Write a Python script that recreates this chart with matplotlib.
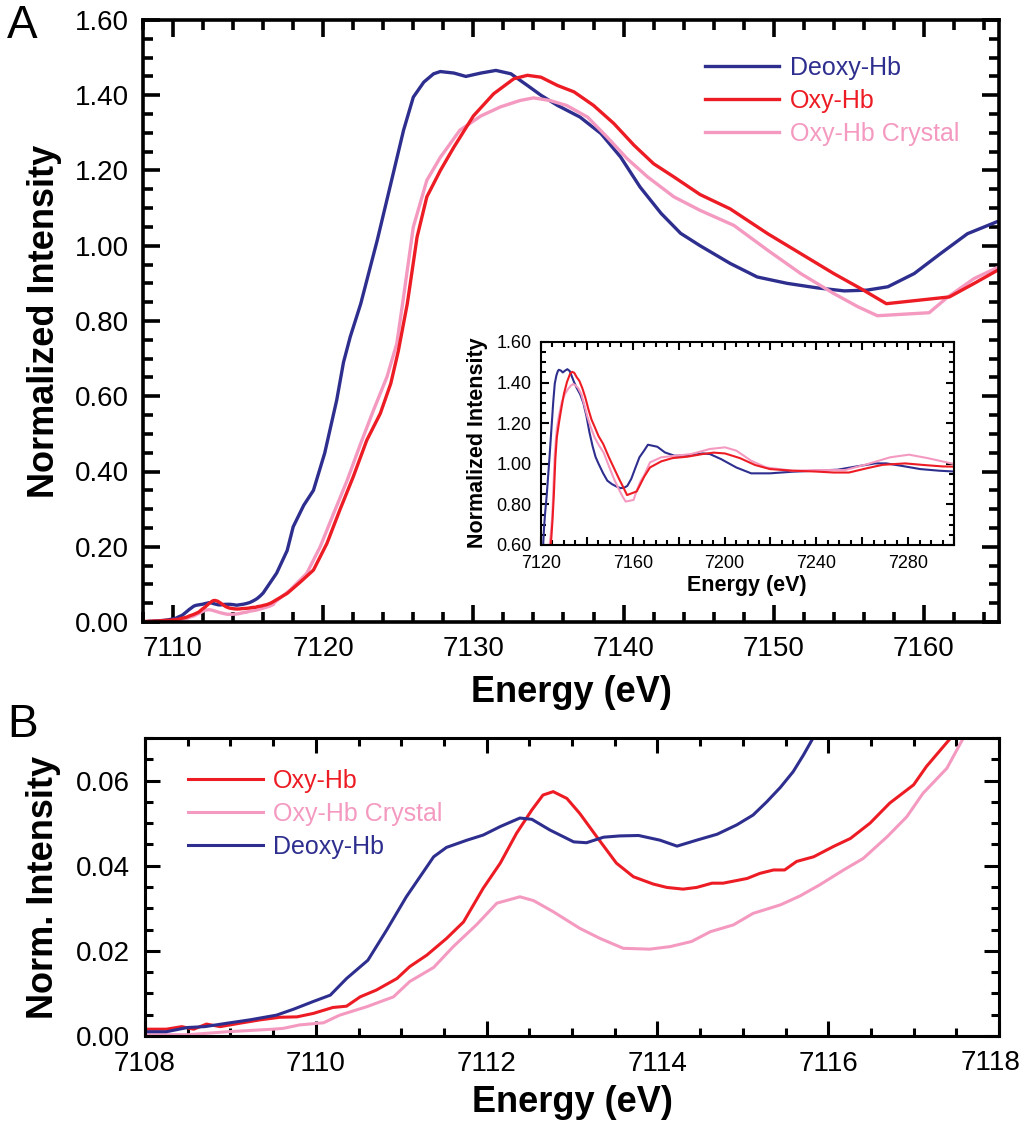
import numpy as np
import matplotlib
matplotlib.use('Agg')
import matplotlib.pyplot as plt
from matplotlib.ticker import MultipleLocator, FormatStrFormatter, FuncFormatter

plt.rcParams['font.family'] = ['Liberation Sans', 'DejaVu Sans']

NAVY = '#2e2e8f'
RED = '#ed1c24'
PINK = '#f49ac1'

# --- pre-edge region (panel B) ---
pre_e_deoxy = [7108.0, 7108.25, 7108.5, 7108.7, 7108.96, 7109.23, 7109.54, 7109.74, 7109.97, 7110.17,
               7110.36, 7110.61, 7110.83, 7111.06, 7111.22, 7111.38, 7111.53, 7111.77, 7111.96, 7112.16,
               7112.39, 7112.53, 7112.74, 7113.02, 7113.17, 7113.37, 7113.56, 7113.78, 7114.03, 7114.23,
               7114.46, 7114.7, 7114.93, 7115.12, 7115.28, 7115.44, 7115.59, 7115.71, 7115.82, 7116.0]
pre_i_deoxy = [0.0010, 0.0010, 0.0020, 0.0022, 0.0030, 0.0038, 0.0049, 0.0063, 0.0081, 0.0096,
               0.0135, 0.0178, 0.0249, 0.0327, 0.0374, 0.0421, 0.0443, 0.0460, 0.0472, 0.0492,
               0.0512, 0.0509, 0.0484, 0.0456, 0.0454, 0.0467, 0.0470, 0.0471, 0.0460, 0.0446,
               0.0460, 0.0474, 0.0496, 0.0519, 0.0550, 0.0584, 0.0621, 0.0660, 0.0699, 0.0760]

pre_e_oxy = [7108.0, 7108.25, 7108.43, 7108.57, 7108.72, 7108.88, 7109.11, 7109.35, 7109.58, 7109.78,
             7109.97, 7110.2, 7110.36, 7110.52, 7110.71, 7110.95, 7111.1, 7111.3, 7111.53, 7111.73,
             7111.96, 7112.16, 7112.35, 7112.53, 7112.66, 7112.78, 7112.94, 7113.09, 7113.29, 7113.52,
             7113.72, 7113.95, 7114.11, 7114.3, 7114.46, 7114.64, 7114.77, 7115.05, 7115.2, 7115.36,
             7115.49, 7115.63, 7115.83, 7116.06, 7116.26, 7116.49, 7116.72, 7117.0, 7117.15, 7117.43, 7117.6]
pre_i_oxy = [0.0016, 0.0016, 0.0022, 0.0016, 0.0028, 0.0022, 0.0030, 0.0038, 0.0044, 0.0045,
             0.0053, 0.0067, 0.0070, 0.0092, 0.0108, 0.0135, 0.0163, 0.0190, 0.0229, 0.0268,
             0.0347, 0.0406, 0.0476, 0.0531, 0.0566, 0.0574, 0.0558, 0.0523, 0.0468, 0.0406,
             0.0374, 0.0357, 0.0349, 0.0345, 0.0349, 0.0359, 0.0359, 0.0370, 0.0382, 0.0390,
             0.0390, 0.0410, 0.0421, 0.0445, 0.0464, 0.0500, 0.0547, 0.0590, 0.0633, 0.0699, 0.0740]

pre_e_cryst = [7108.0, 7108.5, 7108.96, 7109.5, 7109.62, 7109.81, 7110.09, 7110.28, 7110.6, 7110.91,
               7111.1, 7111.38, 7111.61, 7111.88, 7112.12, 7112.39, 7112.55, 7112.78, 7113.09, 7113.33,
               7113.6, 7113.91, 7114.15, 7114.4, 7114.62, 7114.89, 7115.12, 7115.44, 7115.67, 7115.9,
               7116.18, 7116.41, 7116.69, 7116.92, 7117.11, 7117.39, 7117.58, 7117.7]
pre_i_cryst = [0.0003, 0.0003, 0.0010, 0.0016, 0.0018, 0.0026, 0.0031, 0.0049, 0.0069, 0.0092,
               0.0128, 0.0161, 0.0210, 0.0261, 0.0312, 0.0327, 0.0318, 0.0292, 0.0253, 0.0229,
               0.0206, 0.0204, 0.0210, 0.0222, 0.0245, 0.0261, 0.0288, 0.0308, 0.0329, 0.0355,
               0.0390, 0.0417, 0.0468, 0.0515, 0.0570, 0.0629, 0.0699, 0.0740]

# --- edge region (panel A) ---
edge_e_deoxy = [7116.0, 7116.9, 7117.6, 7118.0, 7118.7, 7119.35, 7120.1, 7120.9, 7121.35, 7121.8,
                7122.5, 7123.6, 7124.5, 7125.35, 7126.0, 7126.7, 7127.35, 7127.8, 7128.7, 7129.5,
                7130.5, 7131.5, 7132.5, 7133.6, 7134.5, 7135.6, 7137.1, 7138.5, 7139.8, 7141.1,
                7142.5, 7143.8, 7145.1, 7147.1, 7148.9, 7150.9, 7152.9, 7154.7, 7156.2, 7157.6,
                7159.35, 7161.1, 7162.9, 7165.0]
edge_i_deoxy = [0.077, 0.130, 0.190, 0.253, 0.310, 0.350, 0.449, 0.590, 0.690, 0.758,
                0.846, 1.015, 1.165, 1.307, 1.395, 1.435, 1.457, 1.463, 1.459, 1.450,
                1.459, 1.466, 1.457, 1.426, 1.400, 1.373, 1.342, 1.298, 1.236, 1.156,
                1.086, 1.033, 1.000, 0.953, 0.917, 0.900, 0.888, 0.880, 0.882, 0.891,
                0.926, 0.979, 1.032, 1.066]

edge_e_oxy = [7116.5, 7117.6, 7118.5, 7119.35, 7120.25, 7121.1, 7122.0, 7122.9, 7123.8, 7124.5,
              7125.0, 7125.6, 7126.25, 7126.9, 7127.8, 7128.7, 7130.0, 7131.35, 7132.7, 7133.6,
              7134.5, 7135.6, 7136.7, 7138.0, 7139.35, 7140.7, 7142.0, 7143.35, 7145.1, 7147.1,
              7149.6, 7151.8, 7154.0, 7155.8, 7157.5, 7159.6, 7161.7, 7163.35, 7165.0]
edge_i_oxy = [0.050, 0.076, 0.107, 0.138, 0.209, 0.297, 0.386, 0.483, 0.554, 0.634,
              0.720, 0.846, 1.023, 1.130, 1.200, 1.262, 1.345, 1.404, 1.444, 1.453,
              1.448, 1.426, 1.409, 1.373, 1.325, 1.267, 1.218, 1.183, 1.136, 1.098,
              1.032, 0.979, 0.926, 0.886, 0.846, 0.855, 0.864, 0.900, 0.937]

edge_e_cryst = [7116.7, 7117.8, 7118.9, 7119.8, 7120.7, 7121.6, 7122.5, 7123.35, 7124.25, 7124.9,
                7125.35, 7126.0, 7126.9, 7127.8, 7129.1, 7130.5, 7131.8, 7133.1, 7134.0, 7135.1,
                7136.2, 7137.6, 7138.9, 7140.25, 7141.6, 7143.35, 7145.1, 7147.35, 7149.6, 7151.8,
                7154.0, 7155.6, 7156.9, 7160.35, 7161.6, 7163.35, 7165.0]
edge_i_cryst = [0.050, 0.085, 0.129, 0.200, 0.289, 0.377, 0.475, 0.563, 0.652, 0.740,
                0.864, 1.050, 1.174, 1.235, 1.307, 1.345, 1.369, 1.386, 1.393, 1.386,
                1.373, 1.342, 1.289, 1.231, 1.183, 1.130, 1.094, 1.054, 0.988, 0.926,
                0.873, 0.838, 0.814, 0.822, 0.864, 0.913, 0.944]

# --- EXAFS tail (inset) ---
tail_e_deoxy = [7166.6, 7170.7, 7174.0, 7178.1, 7183.8, 7190.4, 7193.6, 7198.5, 7205.1, 7211.6,
                7219.8, 7229.6, 7239.5, 7249.3, 7257.5, 7265.6, 7270.5, 7277.1, 7285.3, 7293.5, 7300.0]
tail_i_deoxy = [1.094, 1.084, 1.056, 1.040, 1.040, 1.051, 1.048, 1.023, 0.982, 0.953,
                0.953, 0.961, 0.966, 0.971, 0.987, 1.002, 1.002, 0.990, 0.974, 0.966, 0.962]

tail_e_oxy = [7167.5, 7172.4, 7177.3, 7183.8, 7190.4, 7195.3, 7200.2, 7206.7, 7213.3, 7219.8,
              7229.6, 7239.5, 7247.6, 7254.2, 7262.4, 7268.9, 7278.7, 7286.9, 7295.1, 7300.0]
tail_i_oxy = [0.982, 1.012, 1.028, 1.035, 1.048, 1.055, 1.051, 1.028, 0.994, 0.974,
              0.966, 0.962, 0.957, 0.957, 0.979, 0.995, 1.002, 0.994, 0.987, 0.986]

tail_e_cryst = [7167.5, 7172.4, 7178.9, 7185.5, 7193.6, 7200.2, 7205.1, 7211.6, 7218.2, 7229.6,
                7241.1, 7252.5, 7262.4, 7272.2, 7280.4, 7288.5, 7300.0]
tail_i_cryst = [1.007, 1.032, 1.040, 1.048, 1.073, 1.081, 1.065, 1.015, 0.982, 0.966,
                0.969, 0.969, 0.999, 1.032, 1.045, 1.028, 0.999]


def join(e1, i1, e2, i2, cut):
    # pre-edge points below cut, then the next segment
    e1 = np.asarray(e1); i1 = np.asarray(i1)
    m = e1 < cut
    return np.concatenate([e1[m], e2]), np.concatenate([i1[m], i2])


main_deoxy = join(pre_e_deoxy, pre_i_deoxy, edge_e_deoxy, edge_i_deoxy, edge_e_deoxy[0])
main_oxy = join(pre_e_oxy, pre_i_oxy, edge_e_oxy, edge_i_oxy, edge_e_oxy[0])
main_cryst = join(pre_e_cryst, pre_i_cryst, edge_e_cryst, edge_i_cryst, edge_e_cryst[0])

full_deoxy = (np.concatenate([main_deoxy[0], tail_e_deoxy]), np.concatenate([main_deoxy[1], tail_i_deoxy]))
full_oxy = (np.concatenate([main_oxy[0], tail_e_oxy]), np.concatenate([main_oxy[1], tail_i_oxy]))
full_cryst = (np.concatenate([main_cryst[0], tail_e_cryst]), np.concatenate([main_cryst[1], tail_i_cryst]))

W, H = 1024, 1131
fig = plt.figure(figsize=(W / 100, H / 100), dpi=100)


def box(l, t, r, b):
    return [l / W, 1 - b / H, (r - l) / W, (b - t) / H]


def style(ax, lw, maj, mino, size, pad):
    for s in ax.spines.values():
        s.set_linewidth(lw)
    ax.tick_params(which='both', direction='in', top=True, right=True, width=lw,
                   labelsize=size, pad=pad)
    ax.tick_params(which='major', length=maj)
    ax.tick_params(which='minor', length=mino)


# panel A
ax = fig.add_axes(box(143, 20, 999, 622))
ax.plot(*main_deoxy, color=NAVY, lw=2.4)
ax.plot(*main_cryst, color=PINK, lw=2.4)
ax.plot(*main_oxy, color=RED, lw=2.4)
ax.set_xlim(7108, 7165)
ax.set_ylim(0, 1.6)
ax.xaxis.set_major_locator(MultipleLocator(10))
ax.xaxis.set_minor_locator(MultipleLocator(2))
ax.yaxis.set_major_locator(MultipleLocator(0.2))
ax.yaxis.set_minor_locator(MultipleLocator(0.05))
ax.yaxis.set_major_formatter(FormatStrFormatter('%.2f'))
style(ax, 2.6, 12, 7, 20, 10)
h = [plt.Line2D([], [], color=c, lw=2.4) for c in (NAVY, RED, PINK)]
ax.legend(h, ['Deoxy-Hb', 'Oxy-Hb', 'Oxy-Hb Crystal'], loc='upper left',
          bbox_to_anchor=((705 - 143) / 856, (622 - 56) / 602), frameon=False,
          fontsize=18, handlelength=2.95, handletextpad=0.45, labelspacing=0.36,
          borderpad=0, borderaxespad=0, labelcolor='linecolor')

# inset
axi = fig.add_axes(box(541, 342, 954, 545))
axi.set_facecolor('white')
axi.plot(*full_deoxy, color=NAVY, lw=1.5)
axi.plot(*full_cryst, color=PINK, lw=1.5)
axi.plot(*full_oxy, color=RED, lw=1.5)
axi.set_xlim(7120, 7300)
axi.set_ylim(0.6, 1.6)
axi.xaxis.set_major_locator(MultipleLocator(20))
axi.xaxis.set_minor_locator(MultipleLocator(5))
axi.xaxis.set_major_formatter(FuncFormatter(lambda v, p: '%d' % v if round(v) % 40 == 0 else ''))
axi.yaxis.set_major_locator(MultipleLocator(0.2))
axi.yaxis.set_minor_locator(MultipleLocator(0.05))
axi.yaxis.set_major_formatter(FormatStrFormatter('%.2f'))
style(axi, 1.5, 6, 3.5, 13, 7)

# panel B
axb = fig.add_axes(box(145, 738, 999, 1036))
axb.plot(pre_e_oxy, pre_i_oxy, color=RED, lw=2.2)
axb.plot(pre_e_cryst, pre_i_cryst, color=PINK, lw=2.2)
axb.plot(pre_e_deoxy, pre_i_deoxy, color=NAVY, lw=2.2)
axb.set_xlim(7108, 7118)
axb.set_ylim(0, 0.07)
axb.xaxis.set_major_locator(MultipleLocator(2))
axb.xaxis.set_minor_locator(MultipleLocator(0.5))
# last label (7118) is placed by hand so it stays inside the picture
axb.xaxis.set_major_formatter(FuncFormatter(lambda v, p: '' if v > 7117.5 else '%d' % v))
axb.yaxis.set_major_locator(MultipleLocator(0.02))
axb.yaxis.set_minor_locator(MultipleLocator(0.005))
axb.yaxis.set_major_formatter(FormatStrFormatter('%.2f'))
style(axb, 2.2, 11, 6, 20, 11)
hb = [plt.Line2D([], [], color=c, lw=2.2) for c in (RED, PINK, NAVY)]
axb.legend(hb, ['Oxy-Hb', 'Oxy-Hb Crystal', 'Deoxy-Hb'], loc='upper left',
           bbox_to_anchor=((188 - 145) / 854, (1036 - 769) / 298), frameon=False,
           fontsize=18, handlelength=3.0, handletextpad=0.4, labelspacing=0.36,
           borderpad=0, borderaxespad=0, labelcolor='linecolor')
fig.text(1021 / W, 1 - 1070 / H, '7118', ha='right', va='baseline', fontsize=20)

# labels
fig.text(45 / W, 1 - 321 / H, 'Normalized Intensity', rotation=90, ha='center', va='center',
         fontsize=26, fontweight='bold')
fig.text(571 / W, 1 - 702 / H, 'Energy (eV)', ha='center', va='baseline',
         fontsize=26, fontweight='bold')
fig.text(477 / W, 1 - 443 / H, 'Normalized Intensity', rotation=90, ha='center', va='center',
         fontsize=15.5, fontweight='bold')
fig.text(747 / W, 1 - 591 / H, 'Energy (eV)', ha='center', va='baseline',
         fontsize=15.5, fontweight='bold')
fig.text(44 / W, 1 - 887 / H, 'Norm. Intensity', rotation=90, ha='center', va='center',
         fontsize=26, fontweight='bold')
fig.text(572 / W, 1 - 1112 / H, 'Energy (eV)', ha='center', va='baseline',
         fontsize=26, fontweight='bold')
fig.text(7 / W, 1 - 38 / H, 'A', fontsize=33, va='baseline')
fig.text(7 / W, 1 - 737 / H, 'B', fontsize=33, va='baseline')

fig.savefig('out.png', dpi=100)
